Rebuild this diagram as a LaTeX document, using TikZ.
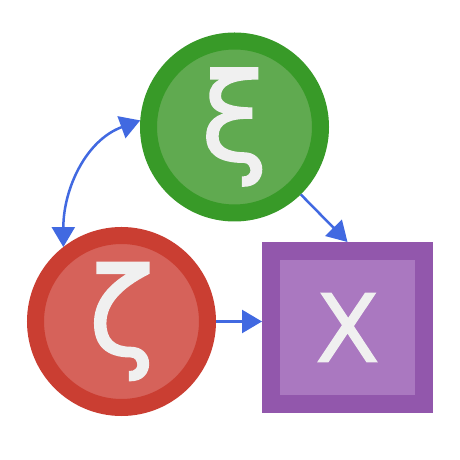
\documentclass[tikz,border=0pt]{standalone}
\usepackage{fontspec}
\setmainfont{DejaVu Sans}
\newfontfamily\letterfont[FakeBold=1.2]{DejaVu Sans}
\usepackage{tikz}
\usetikzlibrary{arrows.meta,positioning,calc}

\definecolor{greenout}{HTML}{389A28}
\definecolor{greenin}{HTML}{60AA50}
\definecolor{redout}{HTML}{CA3E32}
\definecolor{redin}{HTML}{D6625A}
\definecolor{purpout}{HTML}{9257AC}
\definecolor{purpin}{HTML}{AA78C0}
\definecolor{arrowblue}{HTML}{4169E1}
\definecolor{letter}{HTML}{F0F0F0}

\tikzset{
  varnode/.style={circle, minimum size=172pt, inner sep=0pt, line width=17pt,
    text=letter, font=\letterfont\fontsize{122}{122}\selectfont},
  boxnode/.style={rectangle, minimum size=153pt, inner sep=0pt, line width=18pt,
    text=letter, font=\letterfont\fontsize{94}{94}\selectfont},
  link/.style={arrowblue, line width=2.5pt, -{Triangle[length=20pt,width=23pt]}}
}

\begin{document}
\begin{tikzpicture}[x=1pt,y=1pt]
\useasboundingbox (0,0) rectangle (460,460);

\node[varnode, draw=greenout, fill=greenin] (xi) at (234.5,333) {ξ};
\node[varnode, draw=redout, fill=redin] (zeta) at (121.5,138.5) {ζ};
\node[boxnode, draw=purpout, fill=purpin] (chi) at (347.5,132.5) {X};

\draw[link, {Triangle[length=20pt,width=23pt]}-{Triangle[length=20pt,width=23pt]}]
  (zeta.128) to[out=90,in=200] (xi.176);
\draw[link] (xi) -- (chi.north);
\draw[link] (zeta) -- (zeta -| chi.west);

\end{tikzpicture}
\end{document}
